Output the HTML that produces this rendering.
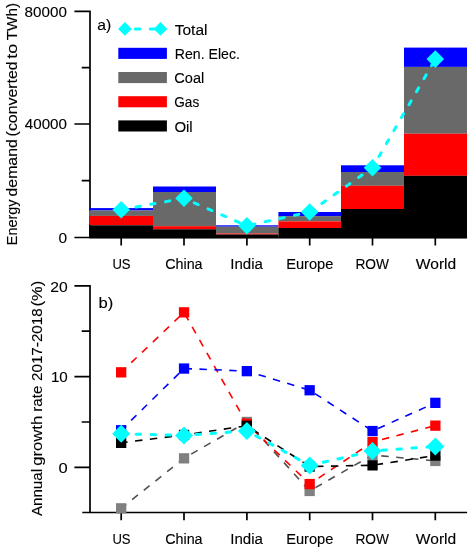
<!DOCTYPE html>
<html lang="en"><head><meta charset="utf-8"><title>Energy demand and annual growth rate</title>
<style>html,body{margin:0;padding:0;background:#fff}body{width:470px;height:550px;overflow:hidden}svg{display:block}text{font-family:"Liberation Sans",sans-serif;font-size:15.2px;fill:#000000;stroke:#000;stroke-width:0.12px}</style></head><body>
<svg width="470" height="550" viewBox="0 0 470 550">
<rect width="470" height="550" fill="#ffffff"/>
<g id="panel-a">
<path d="M90 10.5V238.3M74.4 237.5H467.1M74.4 11.3H90.7M74.4 124H90M81.7 67.6H90M81.7 180.6H90" stroke="#000" stroke-width="1.7" fill="none"/>
<path d="M121.2 237.5V245.6M184.0 237.5V245.6M246.9 237.5V245.6M309.7 237.5V245.6M372.5 237.5V245.6M435.3 237.5V245.6" stroke="#000" stroke-width="1.7" fill="none"/>
<rect x="89.10" y="208.1" width="63.90" height="2.4" fill="#0000ff"/>
<rect x="89.10" y="210.5" width="63.90" height="5.4" fill="#696969"/>
<rect x="89.10" y="215.9" width="63.90" height="9.4" fill="#ff0000"/>
<rect x="89.10" y="225.3" width="63.90" height="13.1" fill="#000000"/>
<rect x="153.00" y="186.5" width="63.00" height="5.5" fill="#0000ff"/>
<rect x="153.00" y="192.0" width="63.00" height="34.2" fill="#696969"/>
<rect x="153.00" y="226.2" width="63.00" height="3.1" fill="#ff0000"/>
<rect x="153.00" y="229.3" width="63.00" height="9.1" fill="#000000"/>
<rect x="216.00" y="225.3" width="62.40" height="1.4" fill="#0000ff"/>
<rect x="216.00" y="226.7" width="62.40" height="6.8" fill="#696969"/>
<rect x="216.00" y="233.5" width="62.40" height="1.0" fill="#ff0000"/>
<rect x="216.00" y="234.5" width="62.40" height="3.9" fill="#000000"/>
<rect x="278.40" y="212.0" width="62.60" height="4.1" fill="#0000ff"/>
<rect x="278.40" y="216.1" width="62.60" height="5.3" fill="#696969"/>
<rect x="278.40" y="221.4" width="62.60" height="6.6" fill="#ff0000"/>
<rect x="278.40" y="228.0" width="62.60" height="10.4" fill="#000000"/>
<rect x="341.00" y="165.3" width="63.00" height="6.7" fill="#0000ff"/>
<rect x="341.00" y="172.0" width="63.00" height="13.8" fill="#696969"/>
<rect x="341.00" y="185.8" width="63.00" height="23.2" fill="#ff0000"/>
<rect x="341.00" y="209.0" width="63.00" height="29.4" fill="#000000"/>
<rect x="404.00" y="47.6" width="63.00" height="19.3" fill="#0000ff"/>
<rect x="404.00" y="66.9" width="63.00" height="66.8" fill="#696969"/>
<rect x="404.00" y="133.7" width="63.00" height="42.1" fill="#ff0000"/>
<rect x="404.00" y="175.8" width="63.00" height="62.6" fill="#000000"/>
<line x1="121.2" y1="209.7" x2="184.0" y2="198.3" stroke="#00ffff" stroke-width="3" stroke-dasharray="4.4 10.6" stroke-dashoffset="0.00" stroke-linecap="round"/><line x1="184.0" y1="198.3" x2="246.9" y2="225.8" stroke="#00ffff" stroke-width="3" stroke-dasharray="4.4 10.6" stroke-dashoffset="3.86" stroke-linecap="round"/><line x1="246.9" y1="225.8" x2="309.7" y2="212.0" stroke="#00ffff" stroke-width="3" stroke-dasharray="4.4 10.6" stroke-dashoffset="11.24" stroke-linecap="round"/><line x1="309.7" y1="212.0" x2="372.5" y2="167.7" stroke="#00ffff" stroke-width="3" stroke-dasharray="4.4 10.6" stroke-dashoffset="0.17" stroke-linecap="round"/><line x1="372.5" y1="167.7" x2="435.3" y2="59.1" stroke="#00ffff" stroke-width="3" stroke-dasharray="4.4 10.6" stroke-dashoffset="2.15" stroke-linecap="round"/>
<path d="M112.4 209.7L121.2 200.9L130.0 209.7L121.2 218.5Z" fill="#00ffff"/>
<path d="M175.2 198.3L184.0 189.5L192.8 198.3L184.0 207.1Z" fill="#00ffff"/>
<path d="M238.1 225.8L246.9 217.0L255.7 225.8L246.9 234.6Z" fill="#00ffff"/>
<path d="M300.9 212.0L309.7 203.2L318.5 212.0L309.7 220.8Z" fill="#00ffff"/>
<path d="M363.7 167.7L372.5 158.9L381.3 167.7L372.5 176.5Z" fill="#00ffff"/>
<path d="M426.5 59.1L435.3 50.3L444.1 59.1L435.3 67.9Z" fill="#00ffff"/>
<path d="M124.9 28.9H160.5" fill="none" stroke="#00ffff" stroke-width="3" stroke-dasharray="4.4 10.6" stroke-dashoffset="-10.3" stroke-linecap="round"/>
<path d="M118.1 28.9L124.9 22.1L131.7 28.9L124.9 35.7Z" fill="#00ffff"/>
<path d="M153.7 28.9L160.5 22.1L167.3 28.9L160.5 35.7Z" fill="#00ffff"/>
<rect x="118.3" y="47.8" width="48.6" height="11.1" fill="#0000ff"/>
<text x="174.85" y="58.6" textLength="65.07" lengthAdjust="spacingAndGlyphs">Ren. Elec.</text>
<rect x="118.3" y="72.0" width="48.6" height="11.1" fill="#696969"/>
<text x="174.28" y="82.9" textLength="29.96" lengthAdjust="spacingAndGlyphs">Coal</text>
<rect x="118.3" y="96.2" width="48.6" height="11.1" fill="#ff0000"/>
<text x="174.25" y="107.0" textLength="25.04" lengthAdjust="spacingAndGlyphs">Gas</text>
<rect x="118.3" y="120.4" width="48.6" height="11.1" fill="#000000"/>
<text x="174.38" y="131.7" textLength="18.33" lengthAdjust="spacingAndGlyphs">Oil</text>
<text x="174.76" y="34.9" textLength="32.73" lengthAdjust="spacingAndGlyphs">Total</text>
<text x="97.20" y="29.9" textLength="13.99" lengthAdjust="spacingAndGlyphs">a)</text>
<text x="24.60" y="16.8" textLength="42.23" lengthAdjust="spacingAndGlyphs">80000</text>
<text x="24.81" y="129.2" textLength="42.11" lengthAdjust="spacingAndGlyphs">40000</text>
<text x="58.40" y="243.2" textLength="8.59" lengthAdjust="spacingAndGlyphs">0</text>
<text x="112.43" y="268.7" textLength="18.16" lengthAdjust="spacingAndGlyphs">US</text>
<text x="165.16" y="268.7" textLength="37.41" lengthAdjust="spacingAndGlyphs">China</text>
<text x="230.21" y="268.7" textLength="32.72" lengthAdjust="spacingAndGlyphs">India</text>
<text x="286.18" y="268.7" textLength="47.24" lengthAdjust="spacingAndGlyphs">Europe</text>
<text x="355.45" y="268.7" textLength="33.58" lengthAdjust="spacingAndGlyphs">ROW</text>
<text x="415.83" y="268.7" textLength="40.41" lengthAdjust="spacingAndGlyphs">World</text>
<text style="font-size:14.7px" transform="translate(16.8 0) rotate(-90)"><tspan x="-245.14" textLength="45.70" lengthAdjust="spacingAndGlyphs">Energy</tspan> <tspan x="-196.53" textLength="57.38" lengthAdjust="spacingAndGlyphs">demand</tspan> <tspan x="-136.41" textLength="74.97" lengthAdjust="spacingAndGlyphs">(converted</tspan> <tspan x="-58.73" textLength="15.06" lengthAdjust="spacingAndGlyphs">to</tspan> <tspan x="-40.20" textLength="37.18" lengthAdjust="spacingAndGlyphs">TWh)</tspan></text>
</g>
<g id="panel-b">
<path d="M90 285V513.3M82.3 512.5H467.1M74.4 285.8H90.7M74.4 376.6H90M74.4 467.4H90M81.7 331.2H90M81.7 422H90" stroke="#000" stroke-width="1.7" fill="none"/>
<path d="M121.2 512.5V520.2M184.0 512.5V520.2M246.9 512.5V520.2M309.7 512.5V520.2M372.5 512.5V520.2M435.3 512.5V520.2" stroke="#000" stroke-width="1.7" fill="none"/>
<polyline points="121.2,508.3 184.0,458.3 246.9,421.9 309.7,490.9 372.5,455.0 435.3,460.9" fill="none" stroke="#505050" stroke-width="1.6" stroke-dasharray="7.45 7.48" stroke-dashoffset="1"/>
<rect x="116.0" y="503.2" width="10.3" height="10.3" fill="#808080"/>
<rect x="178.9" y="453.2" width="10.3" height="10.3" fill="#808080"/>
<rect x="241.7" y="416.8" width="10.3" height="10.3" fill="#808080"/>
<rect x="304.5" y="485.8" width="10.3" height="10.3" fill="#808080"/>
<rect x="367.4" y="449.9" width="10.3" height="10.3" fill="#808080"/>
<rect x="430.2" y="455.8" width="10.3" height="10.3" fill="#808080"/>
<polyline points="121.2,372.3 184.0,312.3 246.9,423.7 309.7,484.0 372.5,442.0 435.3,425.6" fill="none" stroke="#ff0000" stroke-width="1.6" stroke-dasharray="7.45 7.48" stroke-dashoffset="1"/>
<rect x="116.0" y="367.2" width="10.3" height="10.3" fill="#ff0000"/>
<rect x="178.9" y="307.2" width="10.3" height="10.3" fill="#ff0000"/>
<rect x="241.7" y="418.6" width="10.3" height="10.3" fill="#ff0000"/>
<rect x="304.5" y="478.9" width="10.3" height="10.3" fill="#ff0000"/>
<rect x="367.4" y="436.9" width="10.3" height="10.3" fill="#ff0000"/>
<rect x="430.2" y="420.5" width="10.3" height="10.3" fill="#ff0000"/>
<polyline points="121.2,442.8 184.0,434.9 246.9,425.8 309.7,466.5 372.5,465.3 435.3,455.5" fill="none" stroke="#000000" stroke-width="1.6" stroke-dasharray="7.45 7.48" stroke-dashoffset="1"/>
<rect x="116.0" y="437.7" width="10.3" height="10.3" fill="#000000"/>
<rect x="178.9" y="429.8" width="10.3" height="10.3" fill="#000000"/>
<rect x="241.7" y="420.7" width="10.3" height="10.3" fill="#000000"/>
<rect x="304.5" y="461.4" width="10.3" height="10.3" fill="#000000"/>
<rect x="367.4" y="460.2" width="10.3" height="10.3" fill="#000000"/>
<rect x="430.2" y="450.4" width="10.3" height="10.3" fill="#000000"/>
<polyline points="121.2,430.2 184.0,368.5 246.9,371.1 309.7,390.2 372.5,431.0 435.3,402.8" fill="none" stroke="#0000ff" stroke-width="1.6" stroke-dasharray="7.45 7.48" stroke-dashoffset="1"/>
<rect x="116.0" y="425.1" width="10.3" height="10.3" fill="#0000ff"/>
<rect x="178.9" y="363.4" width="10.3" height="10.3" fill="#0000ff"/>
<rect x="241.7" y="366.0" width="10.3" height="10.3" fill="#0000ff"/>
<rect x="304.5" y="385.1" width="10.3" height="10.3" fill="#0000ff"/>
<rect x="367.4" y="425.9" width="10.3" height="10.3" fill="#0000ff"/>
<rect x="430.2" y="397.7" width="10.3" height="10.3" fill="#0000ff"/>
<line x1="121.2" y1="433.7" x2="184.0" y2="435.5" stroke="#00ffff" stroke-width="3" stroke-dasharray="4.4 10.6" stroke-dashoffset="0.00" stroke-linecap="round"/><line x1="184.0" y1="435.5" x2="246.9" y2="430.9" stroke="#00ffff" stroke-width="3" stroke-dasharray="4.4 10.6" stroke-dashoffset="2.86" stroke-linecap="round"/><line x1="246.9" y1="430.9" x2="309.7" y2="465.4" stroke="#00ffff" stroke-width="3" stroke-dasharray="4.4 10.6" stroke-dashoffset="4.85" stroke-linecap="round"/><line x1="309.7" y1="465.4" x2="372.5" y2="451.0" stroke="#00ffff" stroke-width="3" stroke-dasharray="4.4 10.6" stroke-dashoffset="1.03" stroke-linecap="round"/><line x1="372.5" y1="451.0" x2="435.3" y2="446.4" stroke="#00ffff" stroke-width="3" stroke-dasharray="4.4 10.6" stroke-dashoffset="5.49" stroke-linecap="round"/>
<path d="M112.2 433.7L121.2 424.7L130.2 433.7L121.2 442.7Z" fill="#00ffff"/>
<path d="M175.0 435.5L184.0 426.5L193.0 435.5L184.0 444.5Z" fill="#00ffff"/>
<path d="M237.9 430.9L246.9 421.9L255.9 430.9L246.9 439.9Z" fill="#00ffff"/>
<path d="M300.7 465.4L309.7 456.4L318.7 465.4L309.7 474.4Z" fill="#00ffff"/>
<path d="M363.5 451.0L372.5 442.0L381.5 451.0L372.5 460.0Z" fill="#00ffff"/>
<path d="M426.3 446.4L435.3 437.4L444.3 446.4L435.3 455.4Z" fill="#00ffff"/>
<text x="98.61" y="307.8" textLength="14.74" lengthAdjust="spacingAndGlyphs">b)</text>
<text x="50.30" y="291.8" textLength="17.44" lengthAdjust="spacingAndGlyphs">20</text>
<text x="50.89" y="382.3" textLength="16.89" lengthAdjust="spacingAndGlyphs">10</text>
<text x="58.53" y="472.9" textLength="9.17" lengthAdjust="spacingAndGlyphs">0</text>
<text x="112.43" y="543.7" textLength="18.16" lengthAdjust="spacingAndGlyphs">US</text>
<text x="165.16" y="543.7" textLength="37.41" lengthAdjust="spacingAndGlyphs">China</text>
<text x="230.21" y="543.7" textLength="32.72" lengthAdjust="spacingAndGlyphs">India</text>
<text x="286.18" y="543.7" textLength="47.24" lengthAdjust="spacingAndGlyphs">Europe</text>
<text x="355.45" y="543.7" textLength="33.58" lengthAdjust="spacingAndGlyphs">ROW</text>
<text x="415.83" y="543.7" textLength="40.41" lengthAdjust="spacingAndGlyphs">World</text>
<text style="font-size:14.7px" transform="translate(41.9 0) rotate(-90)"><tspan x="-516.03" textLength="47.01" lengthAdjust="spacingAndGlyphs">Annual</tspan> <tspan x="-465.78" textLength="50.00" lengthAdjust="spacingAndGlyphs">growth</tspan> <tspan x="-411.70" textLength="26.15" lengthAdjust="spacingAndGlyphs">rate</tspan> <tspan x="-381.06" textLength="72.79" lengthAdjust="spacingAndGlyphs">2017-2018</tspan> <tspan x="-306.40" textLength="25.58" lengthAdjust="spacingAndGlyphs">(%)</tspan></text>
</g>
</svg></body></html>
